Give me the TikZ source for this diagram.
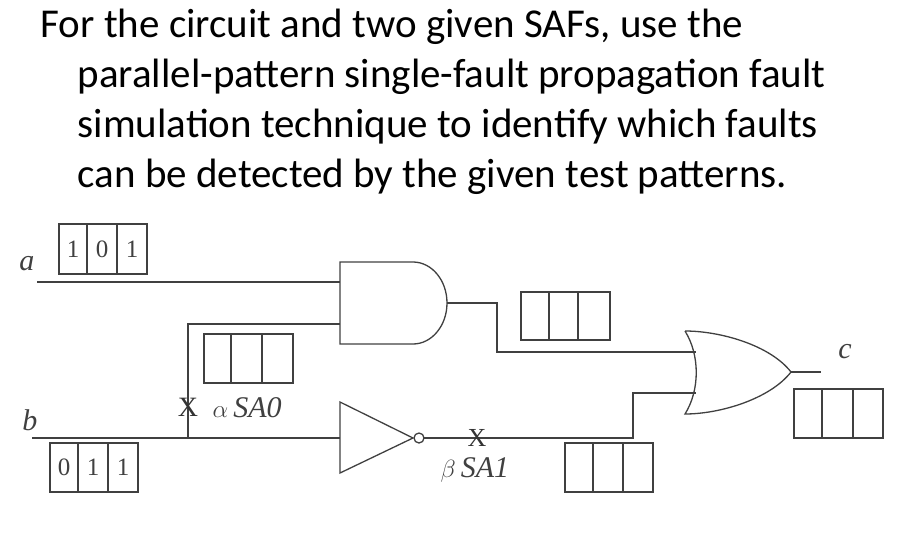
\documentclass[tikz,border=0pt]{standalone}
\usepackage{fontspec}
\setmainfont{Liberation Serif}
\newfontfamily\titlefont{Carlito}
\begin{document}
\begin{tikzpicture}[x=1pt,y=-1pt,line width=1.3pt,draw=black!75,
  ttl/.style={anchor=base west,inner sep=0,font=\titlefont\fontsize{41}{46}\selectfont},
  lbl/.style={inner sep=0,font=\fontsize{30}{32}\selectfont\itshape,text=black!75},
  cellnum/.style={inner sep=0,font=\fontsize{25}{26}\selectfont,text=black!75}]
\useasboundingbox (0,0) rectangle (903,539);
\node[ttl] (t1) at (40,37) {For the circuit and two given SAFs, use the};
\node[ttl] (t2) at (77,87) {parallel-pattern single-fault propagation fault};
\node[ttl] (t3) at (77,137) {simulation technique to identify which faults};
\node[ttl] (t4) at (77,187) {can be detected by the given test patterns.};
% boxes
\newcommand\tribox[7]{\draw (#1,#2) rectangle (#3,#4); \draw (#5,#2)--(#5,#4) (#6,#2)--(#6,#4);}
\tribox{59}{224}{147}{274}{87}{117}{}
\tribox{204}{334}{293}{383}{231}{262}{}
\tribox{50}{443}{138}{492}{78}{108}{}
\tribox{521}{292}{610}{340}{549}{578}{}
\tribox{794}{389}{883}{438}{822}{853}{}
\tribox{565}{443}{653}{492}{593}{623}{}
\node[cellnum] (a1) at (73,249) {1};
\node[cellnum] (a2) at (102,249) {0};
\node[cellnum] (a3) at (132,249) {1};
\node[cellnum] (b1) at (64,467) {0};
\node[cellnum] (b2) at (93,467) {1};
\node[cellnum] (b3) at (123,467) {1};
% labels
\node[lbl] (la) at (27,264) {a};
\node[lbl] (lb) at (30,420) {b};
\node[lbl] (lc) at (845,352) {c};
\node[lbl,anchor=west] (lal) at (212,408) {$\alpha$\,SA0};
\node[lbl,anchor=west] (lbe) at (440,470) {$\beta$\,SA1};
% AND gate
\draw (340,262) -- (413,262) arc[start angle=90,end angle=-90,x radius=34,y radius=-41] -- (340,344) -- cycle;
\coordinate (andout) at (447,303);
% inverter
\draw (340,402) -- (413,438) -- (340,473) -- cycle;
\draw (419,438) circle[radius=5];
% OR gate
\draw (685,331) .. controls (720,331) and (770,345) .. (791,372)
      .. controls (770,399) and (720,414) .. (685,414)
      .. controls (700,390) and (700,355) .. (685,331);
% wires
\draw (37,282) -- (340,282);
\draw (340,324) -- (188,324) -- (188,438);
\draw (32,438) -- (340,438);
\draw (andout) -- (497,303) -- (497,352) -- (696,352);
\draw (424,438) -- (633,438) -- (633,393) -- (696,393);
\draw (791,372) -- (821,372);
% fault marks
\node[inner sep=0,font=\fontsize{28}{30}\selectfont,text=black!80] (x1) at (188,407) {X};
\node[inner sep=0,font=\fontsize{26}{28}\selectfont,text=black!80] (x2) at (477,438) {X};
\end{tikzpicture}
\end{document}
